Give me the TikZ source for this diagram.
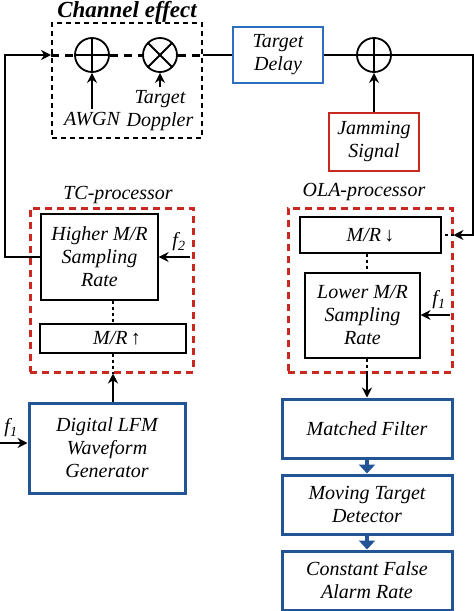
\documentclass[tikz,border=0pt]{standalone}
\usepackage{fontspec}
\setmainfont{Liberation Serif}
\usetikzlibrary{arrows.meta}
\definecolor{delayblue}{RGB}{45,110,190}
\definecolor{dspblue}{RGB}{35,85,150}
\definecolor{jamred}{RGB}{200,40,30}

\tikzset{
  every node/.style={font=\fontsize{20}{23}\selectfont\itshape},
  wire/.style={line width=1.8pt},
  arr/.style={-{Stealth[length=10pt,width=10pt]}},
  bluearr/.style={draw=dspblue, line width=3.5pt, -{Triangle[length=9pt,width=16pt]}},
  smalldash/.style={line width=1.8pt, dash pattern=on 3pt off 3pt},
  chdash/.style={line width=3pt, dash pattern=on 8pt off 6pt},
  chanbox/.style={draw, line width=2pt, dash pattern=on 5pt off 4pt, inner sep=0},
  procbox/.style={draw=jamred, line width=3pt, dash pattern=on 7pt off 5pt, inner sep=0},
  sumnode/.style={draw, circle, line width=1.8pt, minimum size=34pt, inner sep=0},
  plus/.style={path picture={\draw[line width=1.8pt]
      (path picture bounding box.north) -- (path picture bounding box.south)
      (path picture bounding box.west) -- (path picture bounding box.east);}},
  times/.style={path picture={\draw[line width=1.8pt]
      (path picture bounding box.north west) -- (path picture bounding box.south east)
      (path picture bounding box.south west) -- (path picture bounding box.north east);}},
  plainbox/.style={draw, line width=1.2pt, align=center, inner sep=0},
  bluebox/.style={draw=dspblue, line width=3pt, align=center, inner sep=0},
  delaybox/.style={draw=delayblue, line width=2pt, align=center, inner sep=0},
  jambox/.style={draw=jamred, line width=2pt, align=center, inner sep=0},
}

\begin{document}
\begin{tikzpicture}[x=1pt,y=-1pt]
\useasboundingbox (0,0) rectangle (474,611);

% channel effect
\node[chanbox, minimum width=150pt, minimum height=115pt] (chan) at (127,80.5) {};
\node[font=\fontsize{23}{26}\selectfont\bfseries\itshape] (chantitle) at (127,12) {Channel effect};
\node[sumnode, plus] (add1) at (92,55) {};
\node[sumnode, times] (mul1) at (160,55) {};
\node (awgn) at (92,119) {AWGN};
\node[align=center] (dop) at (160,111) {Target\\Doppler};
\node[delaybox, minimum width=90pt, minimum height=56pt] (delay) at (278,55) {Target\\Delay};
\node[sumnode, plus] (add2) at (374,55) {};
\node[jambox, minimum width=90pt, minimum height=58pt] (jam) at (374,142) {Jamming\\Signal};
\coordinate (fbtop) at (5,55);
\coordinate (rc) at (473,235);

% TC-processor
\node (tclab) at (118,195) {TC-processor};
\node[procbox, minimum width=163pt, minimum height=164pt] (tc) at (111.5,290) {};
\node[plainbox, minimum width=117pt, minimum height=86pt] (higher) at (99.5,257) {Higher M/R\\Sampling\\Rate};
\node[plainbox, minimum width=146pt, minimum height=29pt] (mrup) at (113,338.5) {\hspace*{8pt}M/R\,\textup{↑}};
\coordinate (f2in) at (190,257);
\node (f2lab) at (179,242) {f\textsubscript{2}};
\node[bluebox, minimum width=156pt, minimum height=90pt] (lfm) at (107,448) {Digital LFM\\Waveform\\Generator};
\coordinate (f1in) at (0,443);
\node (f1lab) at (11,428) {f\textsubscript{1}};

% OLA-processor
\node (olalab) at (364,192) {OLA-processor};
\node[procbox, minimum width=164pt, minimum height=164pt] (ola) at (370,290) {};
\node[plainbox, minimum width=141pt, minimum height=36pt] (mrdown) at (370.5,235) {M/R\,\textup{↓}};
\node[plainbox, minimum width=115pt, minimum height=85pt] (lower) at (362.5,315.5) {Lower M/R\\Sampling\\Rate};
\coordinate (f1b) at (450,315);
\node (f1blab) at (439,300) {f\textsubscript{1}};
\node[bluebox, minimum width=170pt, minimum height=59pt] (matched) at (367,428.5) {Matched Filter};
\node[bluebox, minimum width=170pt, minimum height=59pt] (mtd) at (367,504.5) {Moving Target\\Detector};
\node[bluebox, minimum width=170pt, minimum height=59pt] (cfar) at (367,580.5) {Constant False\\Alarm Rate};

% connectors
\draw[wire, arr] (higher.west) -| (fbtop) -- (chan.west |- add1);
\draw[chdash] (chan.west |- add1) -- (add1.west) (add1.east) -- (mul1.west) (mul1.east) -- (chan.east |- mul1);
\draw[wire, arr] (awgn) -- (add1.south);
\draw[wire, arr] (dop.north) -- (mul1.south);
\draw[wire] (chan.east |- mul1) -- (delay.west);
\draw[wire] (delay.east) -- (add2.west);
\draw[wire, arr] (jam.north) -- (add2.south);
\draw[wire, arr] (add2.east) -| (rc) -- (ola.east |- rc);
\draw[smalldash] (ola.east |- rc) -- (mrdown.east);

\draw[wire, arr] (f2in) -- (higher.east);
\draw[smalldash] (mrup.north |- higher.south) -- (mrup.north);
\draw[smalldash] (mrup.south) -- (mrup.south |- tc.south);
\draw[wire, arr] (mrup.south |- lfm.north) -- (mrup.south |- tc.south);
\draw[wire, arr] (f1in) -- (f1in -| lfm.west);

\draw[wire, arr] (f1b) -- (f1b -| lower.east);
\draw[smalldash] (matched.north |- mrdown.south) -- (matched.north |- lower.north);
\draw[smalldash] (matched.north |- lower.south) -- (matched.north |- ola.south);
\draw[wire, arr] (matched.north |- ola.south) -- (matched.north);
\draw[bluearr] (matched) -- (mtd);
\draw[bluearr] (mtd) -- (cfar);
\end{tikzpicture}
\end{document}
